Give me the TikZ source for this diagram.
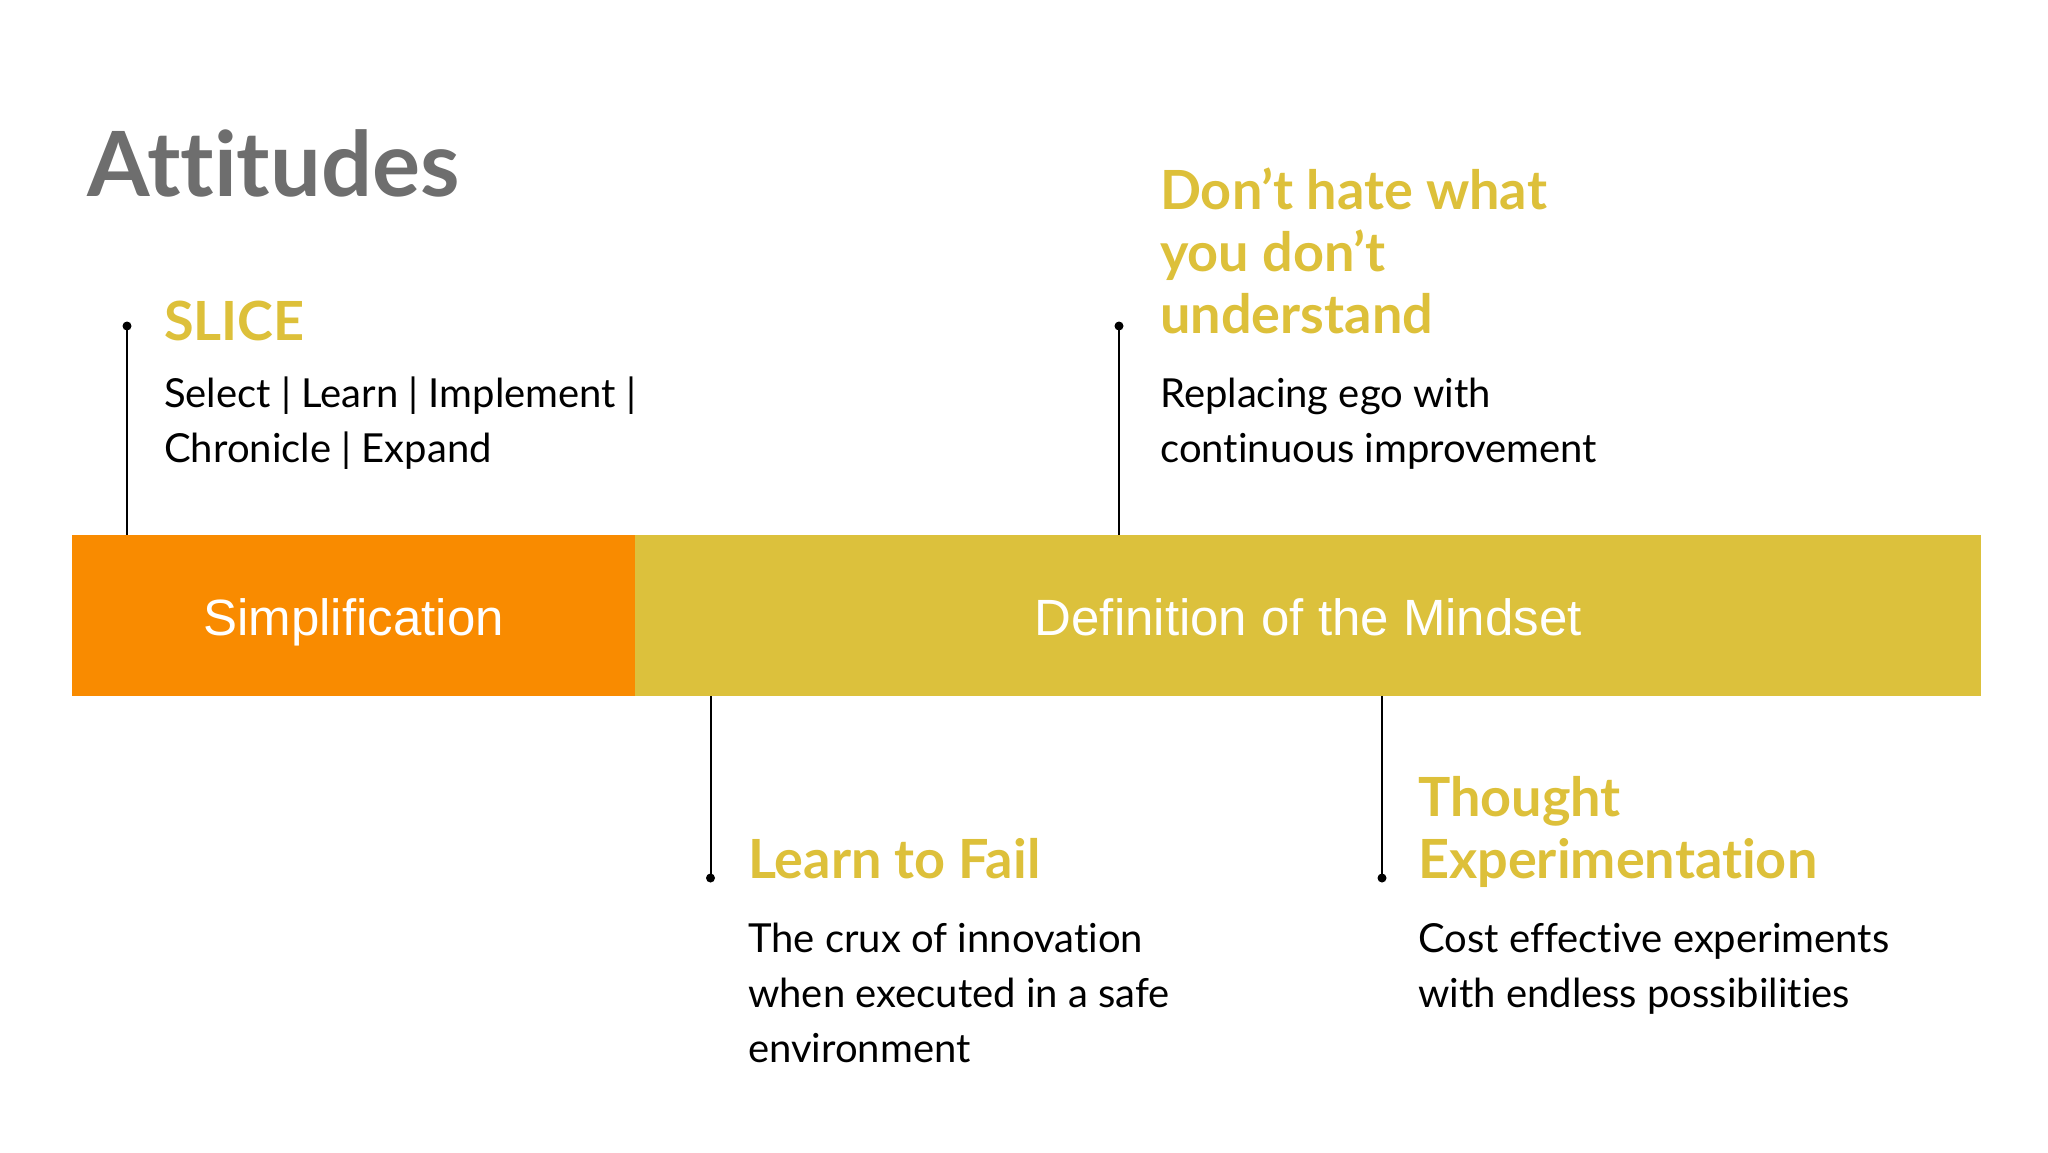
\documentclass[tikz,border=0pt]{standalone}
\usepackage{fontspec}
\setmainfont{Lato}[Ligatures={NoCommon}]
\newfontfamily\barfont{Liberation Sans}
\definecolor{titlegray}{HTML}{6E6E6E}
\definecolor{gold}{HTML}{DCC13C}
\definecolor{headgold}{HTML}{DDC03A}
\definecolor{barorange}{HTML}{F98B00}
\tikzset{
  heading/.style={anchor=base west, inner sep=0pt, text=headgold, font=\bfseries\fontsize{54}{62}\selectfont},
  bodytext/.style={anchor=base west, inner sep=0pt, text=black, font=\fontsize{40}{55}\selectfont},
  barlabel/.style={anchor=base, inner sep=0pt, text=white, font=\barfont\fontsize{51}{60}\selectfont},
  stem/.style={line width=2pt, draw=black},
  dotmark/.style={fill=black}
}
\begin{document}
\begin{tikzpicture}[x=1pt,y=-1pt]
\useasboundingbox (0,0) rectangle (2048,1152);
\fill[white] (0,0) rectangle (2048,1152);
% title
\node[anchor=base west, inner sep=0pt, text=titlegray, font=\bfseries\fontsize{90}{90}\selectfont] (title) at (87,196) {Attitudes};
% bar
\node[fill=barorange, draw=none, minimum width=563pt, minimum height=161pt, anchor=north west, inner sep=0pt] (simp) at (72,535) {};
\node[fill=gold, draw=none, minimum width=1346pt, minimum height=161pt, anchor=north west, inner sep=0pt] (mind) at (635,535) {};
\node[barlabel] (simpl) at ([yshift=-20pt]simp.center) {Simplification};
\node[barlabel] (mindl) at ([yshift=-20pt]mind.center) {Definition of the Mindset};
% connectors
\coordinate (d1) at (127,326);
\coordinate (d2) at (1119,326);
\coordinate (d3) at (710.5,878);
\coordinate (d4) at (1382,878);
\draw[stem] (d1) -- (d1 |- simp.north);
\draw[stem] (d2) -- (d2 |- mind.north);
\draw[stem] (d3) -- (d3 |- mind.south);
\draw[stem] (d4) -- (d4 |- mind.south);
\fill[dotmark] (d1) circle (4.5pt);
\fill[dotmark] (d2) circle (4.5pt);
\fill[dotmark] (d3) circle (4.5pt);
\fill[dotmark] (d4) circle (4.5pt);
% texts
\node[heading] (h1) at (164,340) {SLICE};
\node[bodytext] (b1) at (164,407) {\parbox[t]{700pt}{Select | Learn | Implement |\\Chronicle | Expand}};
\node[heading] (h2) at (1160,209) {\parbox[t]{700pt}{\raggedright Don’t hate what\\you don’t\\understand}};
\node[bodytext] (b2) at (1160,407) {\parbox[t]{700pt}{Replacing ego with\\continuous improvement}};
\node[heading] (h3) at (748,878) {Learn to Fail};
\node[bodytext] (b3) at (748,952) {\parbox[t]{700pt}{The crux of innovation\\when executed in a safe\\environment}};
\node[heading] (h4) at (1418,816) {\parbox[t]{700pt}{Thought\\Experimentation}};
\node[bodytext] (b4) at (1418,952) {\parbox[t]{700pt}{Cost effective experiments\\with endless possibilities}};
\end{tikzpicture}
\end{document}
